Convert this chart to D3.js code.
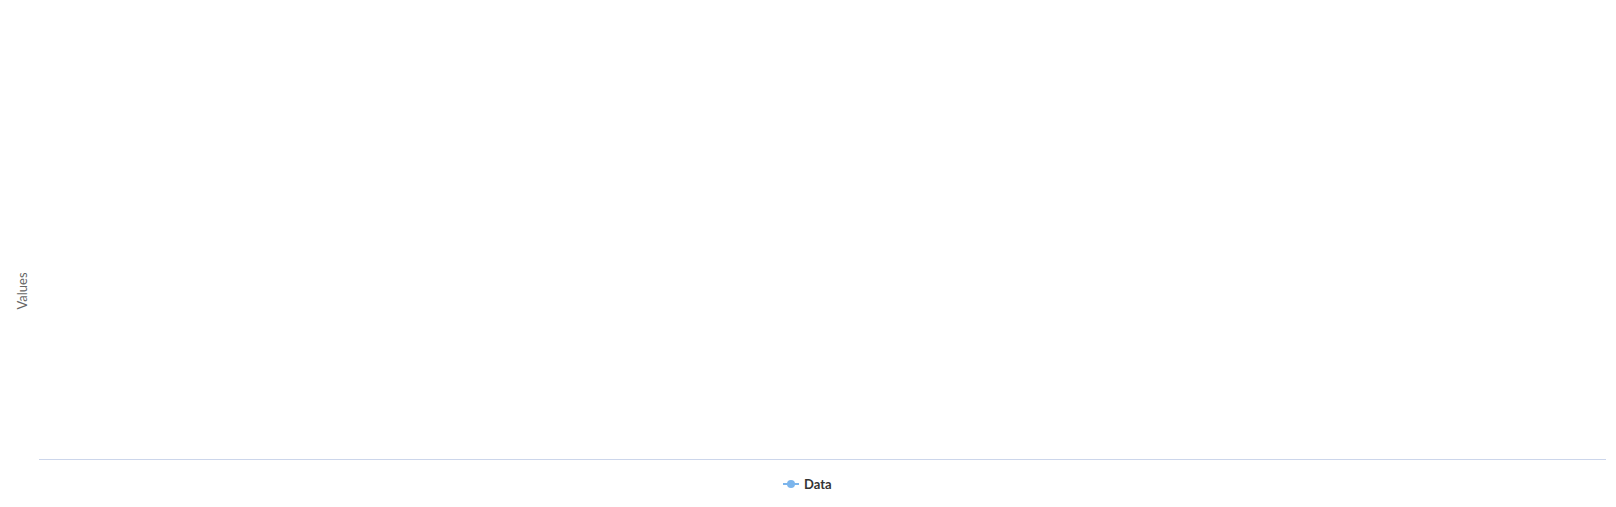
<!DOCTYPE html>
<html>
<head>
    <meta charset="utf-8">
    <style>
        body {
            margin: 0;
            background: #ffffff;
            font-family: Lato, "Open Sans", Arial, sans-serif;
        }
        svg {
            display: block;
        }
    </style>
    <script src="https://cdn.jsdelivr.net/npm/d3@7"></script>
</head>
<body>
    <svg id="chart"></svg>
</body>
<script>
  // the series in the reference holds no points, so these stay empty
  let categories = []
  let values = []
  let seriesName = "Data"
  let yAxisTitle = "Values"

  let width = 1616
  let height = 507
  let margin = { top: 10, right: 10, bottom: 48, left: 39 }
  let bodyWidth = width - margin.left - margin.right
  let bodyHeight = height - margin.top - margin.bottom

  let svg = d3.select("#chart")
      .attr("width", width)
      .attr("height", height)

  let xScale = d3.scaleBand()
      .domain(categories)
      .range([0, bodyWidth])
      .padding(0.1)

  let yScale = d3.scaleLinear()
      .domain([0, d3.max(values) || 1])
      .range([bodyHeight, 0])

  let body = svg.append("g")
      .attr("transform", `translate(${margin.left},${margin.top})`)

  // series line + markers (nothing to draw when empty)
  let line = d3.line()
      .x((d, i) => xScale(categories[i]) + xScale.bandwidth() / 2)
      .y(d => yScale(d))

  body.append("path")
      .datum(values)
      .attr("fill", "none")
      .attr("stroke", "#7cb5ec")
      .attr("stroke-width", 2)
      .attr("d", values.length ? line : null)

  body.selectAll(".dot")
      .data(values)
      .enter().append("circle")
      .attr("class", "dot")
      .attr("cx", (d, i) => xScale(categories[i]) + xScale.bandwidth() / 2)
      .attr("cy", d => yScale(d))
      .attr("r", 4)
      .attr("fill", "#7cb5ec")

  // x axis: only the baseline shows
  let axisX = d3.axisBottom(xScale).tickSize(0)
  let gx = body.append("g")
      .attr("transform", `translate(0,${bodyHeight + 0.5})`)
      .call(axisX)
  gx.select(".domain")
      .attr("stroke", "#ccd6eb")
      .attr("d", `M0,0H${bodyWidth}`)
  gx.selectAll("text").attr("fill", "#666666").style("font-size", "11px")

  // y axis title
  svg.append("text")
      .attr("transform", `translate(27,291) rotate(-90)`)
      .attr("text-anchor", "middle")
      .attr("fill", "#666666")
      .style("font-size", "13px")
      .text(yAxisTitle)

  // legend
  let legend = svg.append("g")
      .attr("transform", "translate(783,484)")
  legend.append("line")
      .attr("x1", 0).attr("x2", 16)
      .attr("y1", 0).attr("y2", 0)
      .attr("stroke", "#7cb5ec")
      .attr("stroke-width", 2)
  legend.append("circle")
      .attr("cx", 8).attr("cy", 0)
      .attr("r", 4)
      .attr("fill", "#7cb5ec")
  legend.append("text")
      .attr("x", 21)
      .attr("y", 5)
      .attr("fill", "#333333")
      .style("font-size", "13px")
      .style("font-weight", "bold")
      .text(seriesName)

</script>
</html>
